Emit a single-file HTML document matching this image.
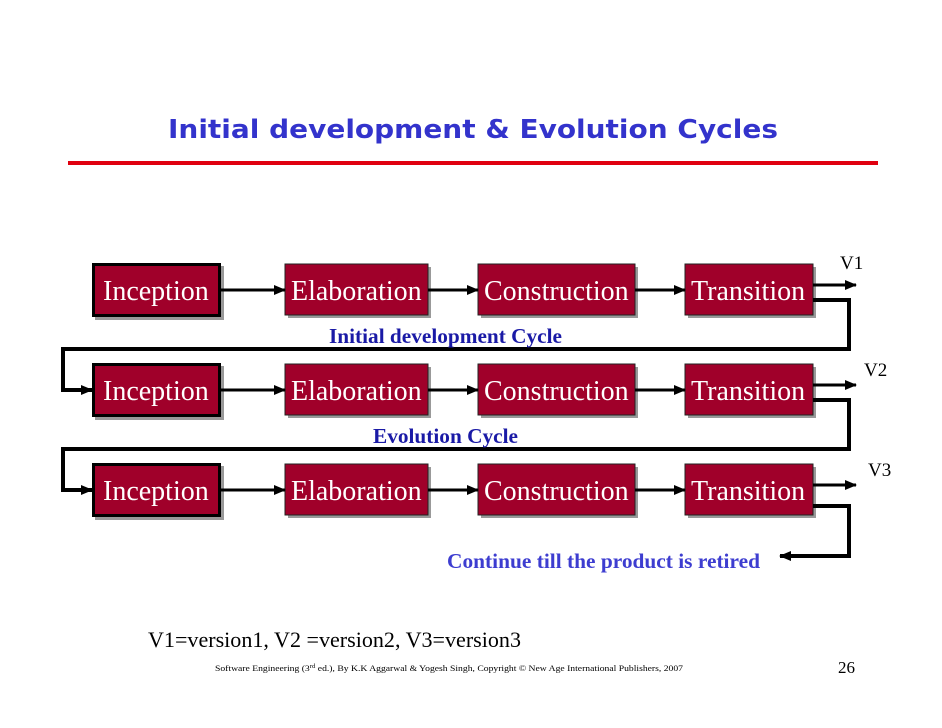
<!DOCTYPE html>
<html><head><style>
html,body{margin:0;padding:0;background:#fff;}
svg{display:block;}
</style></head><body>
<svg width="942" height="728" viewBox="0 0 942 728" xmlns="http://www.w3.org/2000/svg">
<defs>
<marker id="a" markerWidth="12" markerHeight="12" refX="11" refY="6" orient="auto" markerUnits="userSpaceOnUse">
<path d="M0,1 L12,6 L0,11 Z" fill="#000"/></marker>
</defs>
<text x="473" y="138" text-anchor="middle" font-family="DejaVu Sans, sans-serif" font-weight="bold" font-size="26" fill="#3333cc" textLength="610" lengthAdjust="spacingAndGlyphs">Initial development &amp; Evolution Cycles</text>
<rect x="68" y="161" width="810" height="4" fill="#e0000f"/>
<g>
<rect x="95" y="266" width="129" height="54" fill="#999"/>
<rect x="93.5" y="264.5" width="126" height="51" fill="#a0002a" stroke="#000" stroke-width="3"/>
<rect x="288" y="267" width="143" height="51" fill="#999"/>
<rect x="285" y="264" width="143" height="51" fill="#a0002a" stroke="#222" stroke-width="1"/>
<rect x="481" y="267" width="157" height="51" fill="#999"/>
<rect x="478" y="264" width="157" height="51" fill="#a0002a" stroke="#222" stroke-width="1"/>
<rect x="688" y="267" width="128" height="51" fill="#999"/>
<rect x="685" y="264" width="128" height="51" fill="#a0002a" stroke="#222" stroke-width="1"/>
<rect x="95" y="366" width="129" height="54" fill="#999"/>
<rect x="93.5" y="364.5" width="126" height="51" fill="#a0002a" stroke="#000" stroke-width="3"/>
<rect x="288" y="367" width="143" height="51" fill="#999"/>
<rect x="285" y="364" width="143" height="51" fill="#a0002a" stroke="#222" stroke-width="1"/>
<rect x="481" y="367" width="157" height="51" fill="#999"/>
<rect x="478" y="364" width="157" height="51" fill="#a0002a" stroke="#222" stroke-width="1"/>
<rect x="688" y="367" width="128" height="51" fill="#999"/>
<rect x="685" y="364" width="128" height="51" fill="#a0002a" stroke="#222" stroke-width="1"/>
<rect x="95" y="466" width="129" height="54" fill="#999"/>
<rect x="93.5" y="464.5" width="126" height="51" fill="#a0002a" stroke="#000" stroke-width="3"/>
<rect x="288" y="467" width="143" height="51" fill="#999"/>
<rect x="285" y="464" width="143" height="51" fill="#a0002a" stroke="#222" stroke-width="1"/>
<rect x="481" y="467" width="157" height="51" fill="#999"/>
<rect x="478" y="464" width="157" height="51" fill="#a0002a" stroke="#222" stroke-width="1"/>
<rect x="688" y="467" width="128" height="51" fill="#999"/>
<rect x="685" y="464" width="128" height="51" fill="#a0002a" stroke="#222" stroke-width="1"/>
</g>
<g font-family="Liberation Serif, serif" font-size="28" fill="#fff">
<text x="103" y="300">Inception</text><text x="291" y="300">Elaboration</text><text x="484" y="300">Construction</text><text x="691" y="300">Transition</text>
<text x="103" y="400">Inception</text><text x="291" y="400">Elaboration</text><text x="484" y="400">Construction</text><text x="691" y="400">Transition</text>
<text x="103" y="500">Inception</text><text x="291" y="500">Elaboration</text><text x="484" y="500">Construction</text><text x="691" y="500">Transition</text>
</g>
<g stroke="#000" stroke-width="3" fill="none">
<line x1="221" y1="290" x2="285" y2="290" marker-end="url(#a)"/>
<line x1="428" y1="290" x2="478" y2="290" marker-end="url(#a)"/>
<line x1="635" y1="290" x2="685" y2="290" marker-end="url(#a)"/>
<line x1="813" y1="285" x2="856" y2="285" marker-end="url(#a)"/>
<line x1="221" y1="390" x2="285" y2="390" marker-end="url(#a)"/>
<line x1="428" y1="390" x2="478" y2="390" marker-end="url(#a)"/>
<line x1="635" y1="390" x2="685" y2="390" marker-end="url(#a)"/>
<line x1="813" y1="385" x2="856" y2="385" marker-end="url(#a)"/>
<line x1="221" y1="490" x2="285" y2="490" marker-end="url(#a)"/>
<line x1="428" y1="490" x2="478" y2="490" marker-end="url(#a)"/>
<line x1="635" y1="490" x2="685" y2="490" marker-end="url(#a)"/>
<line x1="813" y1="485" x2="856" y2="485" marker-end="url(#a)"/>
<polyline points="813,300 849,300 849,349 63,349 63,390 92,390" stroke-width="4" marker-end="url(#a)"/>
<polyline points="813,400 849,400 849,449 63,449 63,490 92,490" stroke-width="4" marker-end="url(#a)"/>
<polyline points="813,506 849,506 849,556 780,556" stroke-width="4" marker-end="url(#a)"/>
</g>
<g font-family="Liberation Serif, serif" font-size="19" fill="#000">
<text x="840" y="269">V1</text><text x="864" y="376">V2</text><text x="868" y="476">V3</text>
</g>
<g font-family="Liberation Serif, serif" font-size="21" font-weight="bold" fill="#1a1aa6">
<text x="329" y="343" textLength="233" lengthAdjust="spacingAndGlyphs">Initial development Cycle</text>
<text x="373" y="443" textLength="145" lengthAdjust="spacingAndGlyphs">Evolution Cycle</text>
<text x="447" y="568" fill="#3d3dd0" textLength="313" lengthAdjust="spacingAndGlyphs">Continue till the product is retired</text>
</g>
<text x="148" y="647" font-family="Liberation Serif, serif" font-size="22" fill="#000" textLength="373" lengthAdjust="spacingAndGlyphs">V1=version1, V2 =version2, V3=version3</text>
<text x="215" y="671" font-family="Liberation Serif, serif" font-size="8.5" fill="#000" textLength="468" lengthAdjust="spacingAndGlyphs">Software Engineering (3<tspan font-size="6" dy="-3">rd</tspan><tspan dy="3"> ed.), By K.K Aggarwal &amp; Yogesh Singh, Copyright © New Age International Publishers, 2007</tspan></text>
<text x="838" y="673" font-family="Liberation Serif, serif" font-size="17" fill="#000">26</text>
</svg>
</body></html>
